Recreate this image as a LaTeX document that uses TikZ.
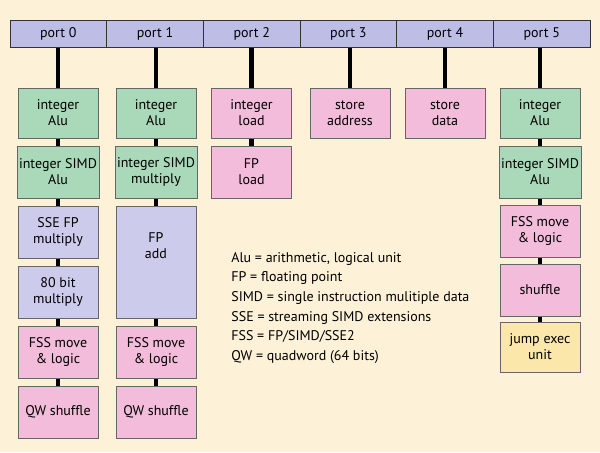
\documentclass[tikz,border=0pt]{standalone}
\usepackage{fontspec}
\setmainfont{PT Sans}
\usetikzlibrary{backgrounds}
\definecolor{cream}{HTML}{FDF1D8}
\definecolor{barc}{HTML}{BDBDE6}
\definecolor{intc}{HTML}{A9D9B9}
\definecolor{fpc}{HTML}{CDCBEB}
\definecolor{memc}{HTML}{F2BCDA}
\definecolor{jmpc}{HTML}{FBE7A9}
\begin{document}
\begin{tikzpicture}[x=0.5pt,y=-0.5pt,
    every node/.style={font=\fontsize{7}{8}\selectfont},
    port/.style={draw=black!80,fill=barc,minimum width=48.3pt,minimum height=13.5pt,inner sep=0pt},
    unit/.style={draw=black!60,minimum width=40pt,minimum height=25pt,align=center,inner sep=1pt},
    tall/.style={unit,minimum height=26pt},
    wire/.style={line width=2.2pt}]
        % Define the ports
        \foreach \i in {0,...,5}
            \node[port] (p\i) at ({58.3+96.7*\i},33.5) {port \i};
        % Define the units
        \node[unit,fill=intc]       (a0) at (58,113)  {integer\\Alu};
        \node[tall,fill=intc]       (b0) at (58,172)  {integer SIMD\\Alu};
        \node[tall,fill=fpc]        (c0) at (58,232)  {SSE FP\\multiply};
        \node[tall,fill=fpc]        (d0) at (58,292)  {80 bit\\multiply};
        \node[tall,fill=memc]       (e0) at (58,352)  {FSS move\\\& logic};
        \node[tall,fill=memc]       (f0) at (58,412)  {QW shuffle};
        \node[unit,fill=intc]       (a1) at (156,113) {integer\\Alu};
        \node[tall,fill=intc]       (b1) at (156,172) {integer SIMD\\multiply};
        \node[unit,fill=fpc,minimum height=56pt] (c1) at (156,262) {FP\\add\\[8pt]};
        \node[tall,fill=memc]       (e1) at (156,352) {FSS move\\\& logic};
        \node[tall,fill=memc]       (f1) at (156,412) {QW shuffle};
        \node[unit,fill=memc]       (a2) at (251.5,113) {integer\\load};
        \node[tall,fill=memc]       (b2) at (251.5,172) {FP\\load};
        \node[unit,fill=memc]       (a3) at (350,113) {store\\address};
        \node[unit,fill=memc]       (a4) at (445,113) {store\\data};
        \node[unit,fill=intc]       (a5) at (540,113) {integer\\Alu};
        \node[tall,fill=intc]       (b5) at (540,172) {integer SIMD\\Alu};
        \node[tall,fill=memc]       (c5) at (540,231) {FSS move\\\& logic};
        \node[tall,fill=memc]       (d5) at (540,290) {shuffle};
        \node[unit,fill=jmpc]       (e5) at (540,347) {jump exec\\unit};
        % Legend
        \node[anchor=north west,align=left,inner sep=0pt,font=\fontsize{7}{9.8}\selectfont] (key) at (231,252)
            {Alu = arithmetic, logical unit\\FP = floating point\\SIMD = single instruction mulitiple data\\SSE = streaming SIMD extensions\\FSS = FP/SIMD/SSE2\\QW = quadword (64 bits)};
        % Connect the ports
        \begin{scope}[on background layer]
            \fill[cream] (0,0) rectangle (600,452);
            \draw[wire] (f0.north |- p0.south) -- (f0.north);
            \draw[wire] (f1.north |- p1.south) -- (f1.north);
            \draw[wire] (b2.north |- p2.south) -- (b2.north);
            \draw[wire] (a3.north |- p3.south) -- (a3.north);
            \draw[wire] (a4.north |- p4.south) -- (a4.north);
            \draw[wire] (e5.north |- p5.south) -- (e5.north);
        \end{scope}
    \end{tikzpicture}
\end{document}
